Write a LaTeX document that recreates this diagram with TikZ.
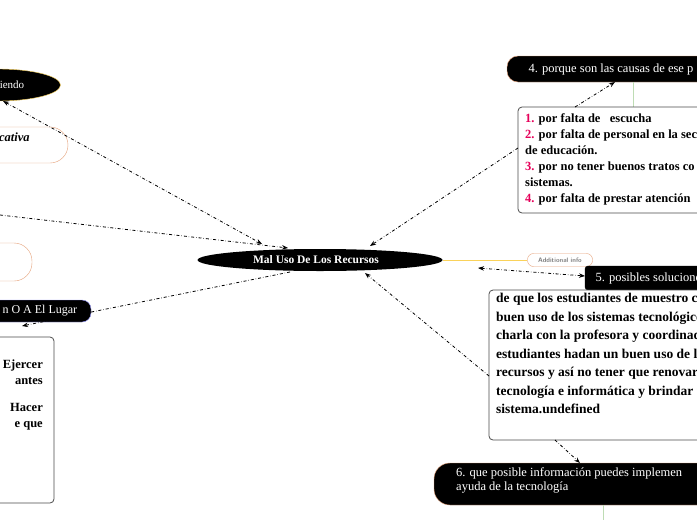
\documentclass[tikz,border=0pt]{standalone}
\usepackage{fontspec}
\setmainfont{Liberation Serif}
\usetikzlibrary{shapes.geometric,arrows.meta}
\definecolor{orng}{RGB}{230,160,120}
\definecolor{crim}{RGB}{230,0,90}
\definecolor{grn}{RGB}{190,220,180}
\definecolor{ylw}{RGB}{250,210,90}
\begin{document}
\begin{tikzpicture}[x=1pt,y=-1pt,
  conn/.style={dash dot,thick,-{Stealth[length=6pt]}},
  wbox/.style={draw=black!70,thick,fill=white,rounded corners=4pt},
  btext/.style={font=\bfseries\fontsize{12.5}{15.5}\selectfont,anchor=north west,align=left,inner sep=0pt}]
\clip (0,0) rectangle (697,520);
\fill[white] (0,0) rectangle (697,520);
% left side
\node[ellipse,draw=ylw,fill=black,minimum width=125pt,minimum height=32pt] (tl) at (-2,85) {};
\node[text=white,font=\fontsize{11}{13}\selectfont] (tlt) at (12,85) {iendo};
\draw[orng,rounded corners=18pt,fill=white] (-60,127) rectangle (68,163);
\node[btext,font=\bfseries\itshape\fontsize{12.5}{14}\selectfont] (cat) at (-1,133) {cativa};
\draw[orng,rounded corners=18pt,fill=white] (-60,243) rectangle (32,281);
\draw[blue!40,fill=black,rounded corners=9pt] (-40,300) rectangle (91,322);
\node[text=white,font=\fontsize{12}{14}\selectfont,anchor=west] (lug) at (-1,311) {n O A El Lugar};
\draw[wbox] (-40,337) rectangle (54,503);
\node[btext,anchor=north east,align=right] (ej) at (43,360) {Ejercer\\antes\\[12pt]Hacer\\e que};
% central
\node[ellipse,fill=black,minimum width=245pt,minimum height=22pt,inner sep=0pt] (c) at (320,260) {};
\node[text=white,font=\bfseries\fontsize{11.5}{13}\selectfont] (ct) at (316,260) {Mal Uso De Los Recursos};
% 4
\draw[orng,fill=black,rounded corners=11pt] (507,56) rectangle (720,82);
\node[text=white,font=\fontsize{12.5}{14}\selectfont,anchor=west] (b4) at (525,69) {4. porque son las causas de ese p};
\draw[grn,thick] (633,82) -- (633,107);
\draw[wbox] (518,107) rectangle (720,213);
\node[btext,font=\bfseries\fontsize{12.5}{16}\selectfont] (l4) at (525,113) {\textcolor{crim}{1.} por falta de \ \ escucha\\
\textcolor{crim}{2.} por falta de personal en la sec\\de educación.\\
\textcolor{crim}{3.} por no tener buenos tratos co\\sistemas.\\
\textcolor{crim}{4.} por falta de prestar atención};
% additional info & 5
\draw[ylw,thick] (443,260) -- (527,260);
\node[draw=orng,rounded corners=6pt,fill=white,text=gray,font=\sffamily\bfseries\fontsize{6.5}{7}\selectfont,minimum width=65pt,minimum height=13pt,inner sep=1pt] (ai) at (560,260) {Additional info};
\draw[fill=black,rounded corners=3pt] (585,266) rectangle (720,290);
\node[text=white,font=\fontsize{12.5}{14}\selectfont,anchor=west] (b5) at (592,278) {5. posibles solucione};
\draw[ylw,thick] (610,290) -- (610,292);
\draw[wbox] (489,290) rectangle (720,440);
\node[btext,font=\bfseries\fontsize{13.5}{18.5}\selectfont] (l5) at (496,293) {de que los estudiantes de muestro col\\buen uso de los sistemas tecnológicos\\charla con la profesora y coordinador\\estudiantes hadan un buen uso de los\\recursos y así no tener que renovar nu\\tecnología e informática y brindar un\\sistema.undefined};
% 6
\draw[orng,fill=black,rounded corners=16pt] (434,463) rectangle (740,505);
\node[text=white,font=\fontsize{12.5}{14}\selectfont,anchor=north west,align=left,inner sep=0pt] (b6) at (456,467) {6. que posible información puedes implemen\\ayuda de la tecnología};
\draw[grn,thick] (603,505) -- (603,520);
% connectors
\coordinate (p1) at (3,101);
\coordinate (p1b) at (262,244);
\draw[conn,{Stealth[length=6pt]}-{Stealth[length=6pt]}] (p1) -- (p1b);
\coordinate (p2) at (0,215);
\draw[conn] (p2) -- (288,248);
\draw[conn] (290,272) -- (22,326);
\draw[conn] (518,148) -- (370,246);
\draw[conn] (575,107) -- (615,82);
\draw[conn,{Stealth[length=6pt]}-{Stealth[length=6pt]}] (478,268) -- (585,276);
\draw[conn] (489,376) -- (365,273);
\draw[conn] (555,440) -- (580,463);
\end{tikzpicture}
\end{document}
